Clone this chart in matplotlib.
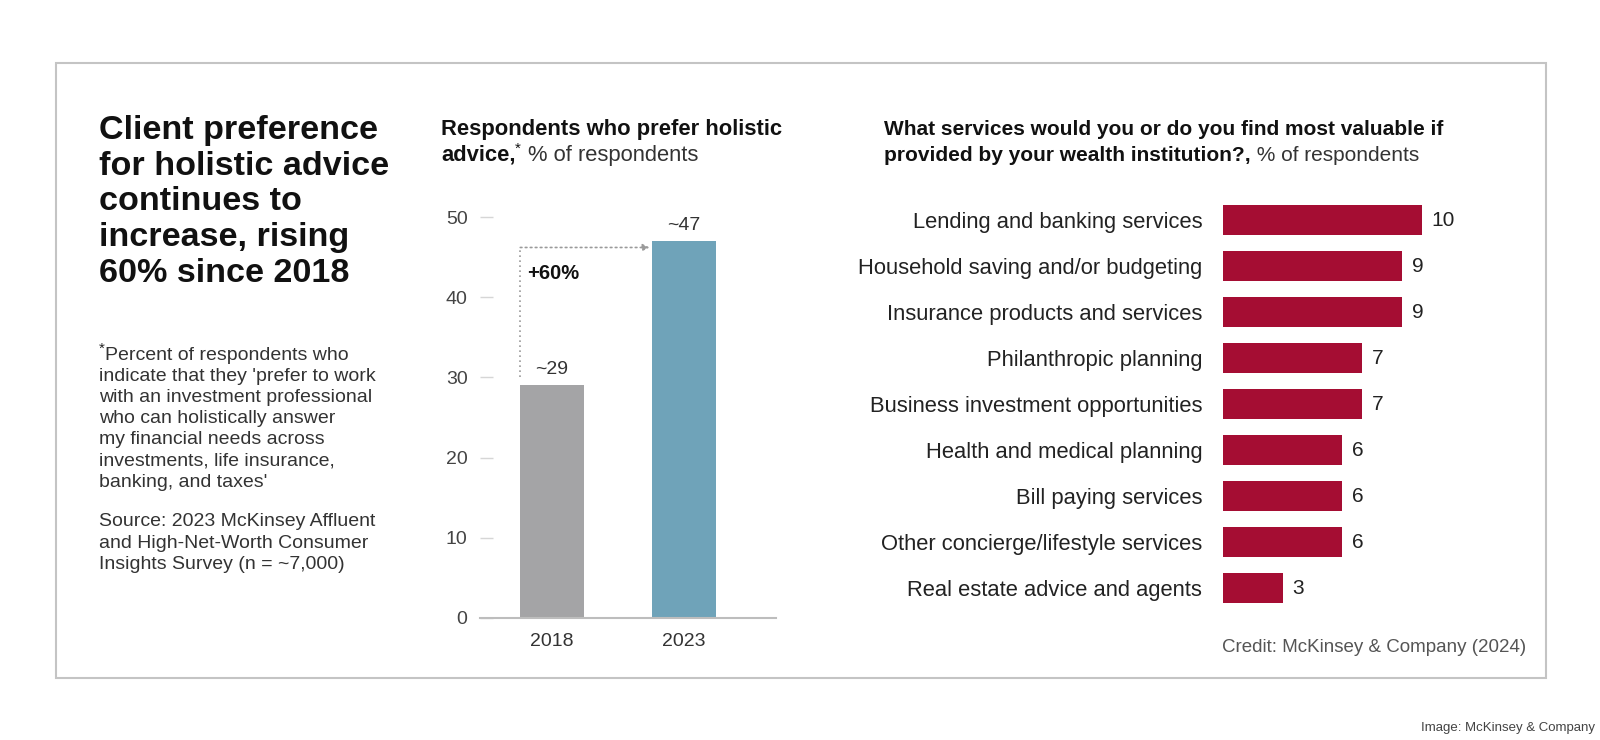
import matplotlib
matplotlib.use("Agg")
import matplotlib.pyplot as plt
from matplotlib.patches import Rectangle

plt.rcParams['font.family'] = ['Liberation Sans', 'DejaVu Sans']

# data
years = ['2018', '2023']
holistic = [29, 47]
year_colors = ['#a4a4a6', '#6fa3b9']

services = ['Lending and banking services', 'Household saving and/or budgeting',
            'Insurance products and services', 'Philanthropic planning',
            'Business investment opportunities', 'Health and medical planning',
            'Bill paying services', 'Other concierge/lifestyle services',
            'Real estate advice and agents']
service_vals = [10, 9, 9, 7, 7, 6, 6, 6, 3]

headline = ['Client preference', 'for holistic advice', 'continues to',
            'increase, rising', '60% since 2018']
footnote = ['Percent of respondents who', "indicate that they 'prefer to work",
            'with an investment professional', 'who can holistically answer',
            'my financial needs across', 'investments, life insurance,',
            "banking, and taxes'"]
source = ['Source: 2023 McKinsey Affluent', 'and High-Net-Worth Consumer',
          'Insights Survey (n = ~7,000)']

W, H = 1600, 740
fig = plt.figure(figsize=(16, 7.4), dpi=100)


def fx(x):
    return x / W


def fy(y):
    return 1 - y / H


def ax_rect(x0, y0, x1, y1):
    return [fx(x0), fy(y1), fx(x1) - fx(x0), fy(y0) - fy(y1)]


# border
fig.patches.append(Rectangle((fx(56), fy(678)), fx(1546) - fx(56), fy(63) - fy(678),
                             transform=fig.transFigure, fill=False,
                             edgecolor='#c4c4c4', linewidth=1.5))

# headline
for i, line in enumerate(headline):
    fig.text(fx(99), fy(131 + i * 35.5), line, fontsize=24.6, fontweight='bold',
             color='#111111', va='center', ha='left')

# footnote
fig.text(fx(99), fy(349), '*', fontsize=11, color='#222222', va='center')
for i, line in enumerate(footnote):
    fig.text(fx(99) + (0.004 if i == 0 else 0), fy(355 + i * 21.2), line,
             fontsize=14, color='#333333', va='center', ha='left')
for i, line in enumerate(source):
    fig.text(fx(99), fy(522 + i * 21.2), line, fontsize=14, color='#333333',
             va='center', ha='left')

renderer = fig.canvas.get_renderer()


def text_run(x, y, parts):
    # draw text pieces one after another on one line
    cur = x
    for s, kw in parts:
        t = fig.text(cur, y, s, va='baseline', ha='left', **kw)
        bb = t.get_window_extent(renderer)
        cur = cur + bb.width / W
    return cur


# left chart title
fig.text(fx(441), fy(135), 'Respondents who prefer holistic', fontsize=15.8,
         fontweight='bold', color='#111111', va='baseline')
end = text_run(fx(441), fy(161), [('advice,', dict(fontsize=15.8, fontweight='bold',
                                                     color='#111111'))])
fig.text(end - 1 / W, fy(153), '*', fontsize=11, color='#111111', va='baseline')
fig.text(end + 12 / W, fy(161), '% of respondents', fontsize=15.8,
         color='#333333', va='baseline')

# right chart title
fig.text(fx(884), fy(135), 'What services would you or do you find most valuable if',
         fontsize=15, fontweight='bold', color='#111111', va='baseline')
text_run(fx(884), fy(161), [('provided by your wealth institution?,',
                              dict(fontsize=15, fontweight='bold', color='#111111')),
                             (' % of respondents', dict(fontsize=15, color='#333333'))])

# left bar chart
ax1 = fig.add_axes(ax_rect(480, 217, 776, 618))
x = list(range(len(years)))
ax1.bar(x, holistic, width=0.48, color=year_colors, zorder=2)
ax1.set_xlim(-0.545, 1.697)
ax1.set_ylim(0, 50)
ax1.set_yticks([0, 10, 20, 30, 40, 50])
ax1.set_xticks(x)
ax1.set_xticklabels(years)
for s in ['top', 'right', 'left']:
    ax1.spines[s].set_visible(False)
ax1.spines['bottom'].set_color('#bdbdbd')
ax1.spines['bottom'].set_linewidth(1.5)
ax1.tick_params(axis='y', direction='in', length=9.5, width=1, color='#d6d6d6',
                pad=9, labelsize=14, labelcolor='#444444')
ax1.tick_params(axis='x', length=0, pad=11, labelsize=14, labelcolor='#333333')
ax1.patch.set_alpha(0)
for xi, v in zip(x, holistic):
    ax1.annotate('~%d' % v, (xi, v), xytext=(0, 5), textcoords='offset points',
                 ha='center', va='bottom', fontsize=14, color='#333333')
# dotted growth arrow
ax1.plot([-0.24, -0.24], [holistic[0] + 1, holistic[1] - 0.8], ls=(0, (1, 2)),
         color='#9a9a9a', lw=1.2, clip_on=False)
ax1.annotate('', xy=(0.74, holistic[1] - 0.8), xytext=(-0.24, holistic[1] - 0.8),
             arrowprops=dict(arrowstyle='-|>', color='#9a9a9a', lw=1.2,
                             linestyle=(0, (1, 2)), mutation_scale=10,
                             shrinkA=0, shrinkB=0))
ax1.text(-0.19, 43, '+60%', fontsize=14.5, fontweight='bold', color='#111111',
         ha='left', va='center')

# right horizontal bar chart
ax2 = fig.add_axes(ax_rect(1223, 197, 1422, 611))
y = list(range(len(services)))
ax2.barh(y, service_vals, height=0.64, color='#a50d33')
ax2.set_xlim(0, 10)
ax2.set_ylim(len(services) - 0.5, -0.5)
ax2.set_yticks(y)
ax2.set_yticklabels(services)
ax2.set_xticks([])
for s in ax2.spines.values():
    s.set_visible(False)
ax2.tick_params(axis='y', length=0, pad=15, labelsize=15.8, labelcolor='#222222')
ax2.patch.set_alpha(0)
for yi, v in zip(y, service_vals):
    ax2.annotate(str(v), (v, yi), xytext=(7, 0), textcoords='offset points',
                 ha='left', va='center', fontsize=15, color='#222222')

# credits
fig.text(fx(1526), fy(647), 'Credit: McKinsey & Company (2024)', fontsize=13.5,
         color='#555555', ha='right', va='center')
fig.text(fx(1595), fy(728), 'Image: McKinsey & Company', fontsize=9.5,
         color='#444444', ha='right', va='center')

fig.savefig('out.png', dpi=100, facecolor='white')
